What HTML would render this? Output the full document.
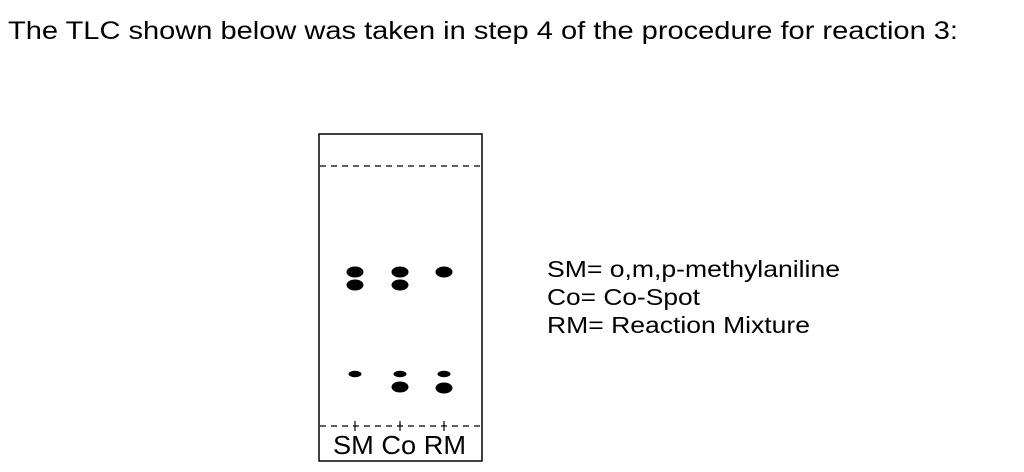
<!DOCTYPE html>
<html><head><meta charset="utf-8"><style>html,body{margin:0;padding:0;background:#fff;}svg{display:block}</style></head>
<body>
<svg width="1024" height="472" viewBox="0 0 1024 472" xmlns="http://www.w3.org/2000/svg">
<text x="8" y="39" font-family="Liberation Sans, sans-serif" font-size="25" fill="#000" textLength="950" lengthAdjust="spacingAndGlyphs">The TLC shown below was taken in step 4 of the procedure for reaction 3:</text>
<rect x="319" y="134" width="163" height="327" fill="none" stroke="#000" stroke-width="1.5"/>
<line x1="320" y1="166" x2="481" y2="166" stroke="#000" stroke-width="1.3" stroke-dasharray="6,5"/>
<line x1="320" y1="426" x2="481" y2="426" stroke="#000" stroke-width="1.3" stroke-dasharray="6,5"/>
<g stroke="#000" stroke-width="1.2">
<line x1="355" y1="421" x2="355" y2="431"/><line x1="400" y1="421" x2="400" y2="431"/><line x1="444" y1="421" x2="444" y2="431"/>
</g>
<g fill="#000">
<ellipse cx="355" cy="272" rx="8.5" ry="5.5"/><ellipse cx="355" cy="285" rx="8.5" ry="5.5"/>
<ellipse cx="400" cy="272" rx="8.5" ry="5.5"/><ellipse cx="400" cy="285" rx="8.5" ry="5.5"/>
<ellipse cx="444" cy="272" rx="8.5" ry="5.5"/>
<ellipse cx="355" cy="374" rx="6.5" ry="3.2"/>
<ellipse cx="400" cy="374" rx="6.5" ry="3.2"/><ellipse cx="400" cy="387" rx="8.5" ry="5.5"/>
<ellipse cx="444" cy="374" rx="6.5" ry="3.2"/><ellipse cx="444" cy="388" rx="8.5" ry="5.5"/>
</g>
<text x="333" y="454" font-family="Liberation Sans, sans-serif" font-size="26" textLength="133" lengthAdjust="spacingAndGlyphs">SM Co RM</text>
<g font-family="Liberation Sans, sans-serif" font-size="23" fill="#000">
<text x="547" y="277" textLength="293" lengthAdjust="spacingAndGlyphs">SM= o,m,p-methylaniline</text>
<text x="547" y="305" textLength="153" lengthAdjust="spacingAndGlyphs">Co= Co-Spot</text>
<text x="547" y="333" textLength="263" lengthAdjust="spacingAndGlyphs">RM= Reaction Mixture</text>
</g>
</svg>
</body></html>
